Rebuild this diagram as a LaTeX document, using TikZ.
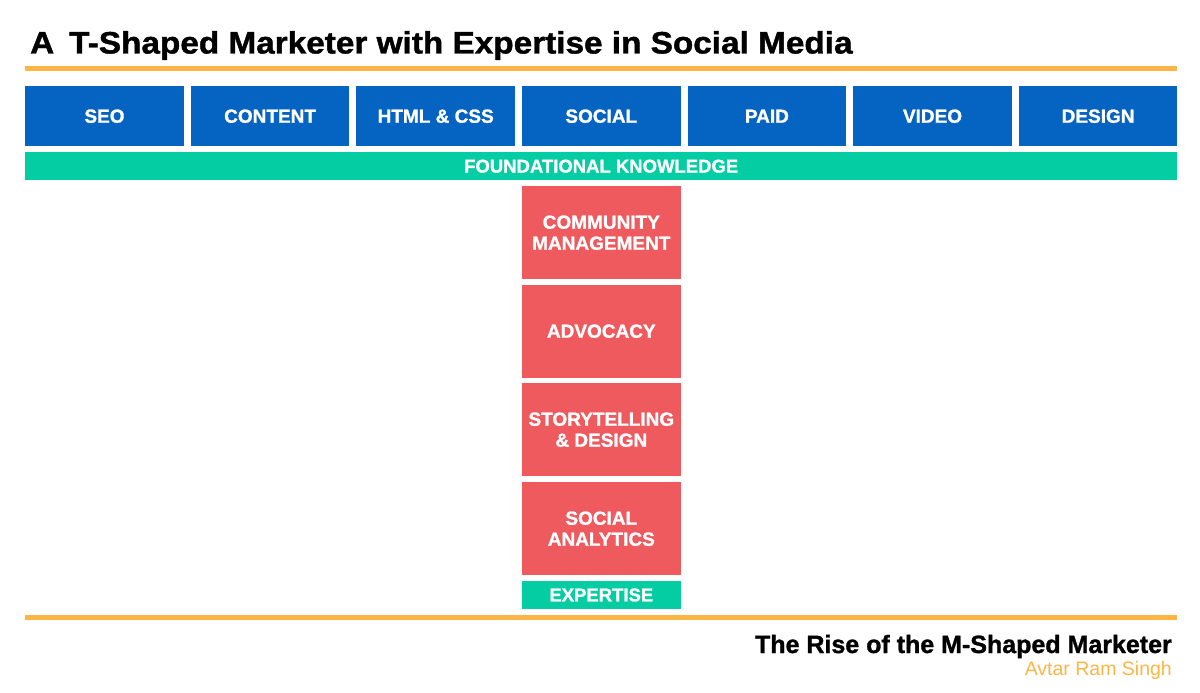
\documentclass[tikz,border=0pt]{standalone}
\usepackage{graphicx}
\usepackage{fontspec}
\setmainfont{Liberation Sans}[BoldFeatures={FakeBold=1.2}]
\definecolor{tblue}{HTML}{0563C1}
\definecolor{tgreen}{HTML}{05CDA3}
\definecolor{tred}{HTML}{EF5A5E}
\definecolor{torange}{HTML}{FDB545}
\begin{document}
\begin{tikzpicture}[x=1pt,y=-1pt,
  lbl/.style={text=white, inner sep=0pt, align=center, font=\fontsize{19}{21}\selectfont\bfseries},
  bluebox/.style={lbl, fill=tblue, anchor=north west, minimum width=158.6pt, minimum height=60pt},
  redbox/.style={lbl, fill=tred, anchor=north west, minimum width=158.6pt, minimum height=93pt},
  greenbar/.style={lbl, fill=tgreen, anchor=north west, font=\fontsize{18.5}{21}\selectfont\bfseries},
  rule/.style={fill=torange}]
\useasboundingbox (0,0) rectangle (1200,693);
\fill[white] (0,0) rectangle (1200,693);
% title
\node[anchor=base west, inner sep=0pt, font=\fontsize{31}{36}\selectfont\bfseries] (title) at (30,53.5) {\scalebox{1.075}[1]{A\hspace{0.45em}T-Shaped Marketer with Expertise in Social Media}};
\fill[rule] (25,66.5) rectangle (1177,71.5);
% top row
\node[bluebox] (seo) at (25,86) {SEO};
\node[bluebox] (content) at (190.6,86) {CONTENT};
\node[bluebox] (html) at (356.2,86) {HTML \& CSS};
\node[bluebox] (social) at (521.8,86) {SOCIAL};
\node[bluebox] (paid) at (687.4,86) {PAID};
\node[bluebox] (video) at (853,86) {VIDEO};
\node[bluebox] (design) at (1018.6,86) {DESIGN};
\node[greenbar, minimum width=1152pt, minimum height=28pt] (found) at (25,152) {FOUNDATIONAL KNOWLEDGE};
% stem
\node[redbox] (comm) at (521.8,186) {COMMUNITY\\MANAGEMENT};
\node[redbox] (adv) at (521.8,284.5) {ADVOCACY};
\node[redbox] (story) at (521.8,383) {STORYTELLING\\\& DESIGN};
\node[redbox] (analytics) at (521.8,482) {SOCIAL\\ANALYTICS};
\node[greenbar, minimum width=158.6pt, minimum height=27.5pt] (expert) at (521.8,581) {EXPERTISE};
\fill[rule] (25,614.5) rectangle (1177,619.5);
% footer
\node[anchor=base east, inner sep=0pt, font=\fontsize{25}{28}\selectfont\bfseries] (book) at (1172,653) {The Rise of the M-Shaped Marketer};
\node[anchor=base east, inner sep=0pt, text=torange, font=\fontsize{19.5}{22}\selectfont] (author) at (1172,675) {Avtar Ram Singh};
\end{tikzpicture}
\end{document}
